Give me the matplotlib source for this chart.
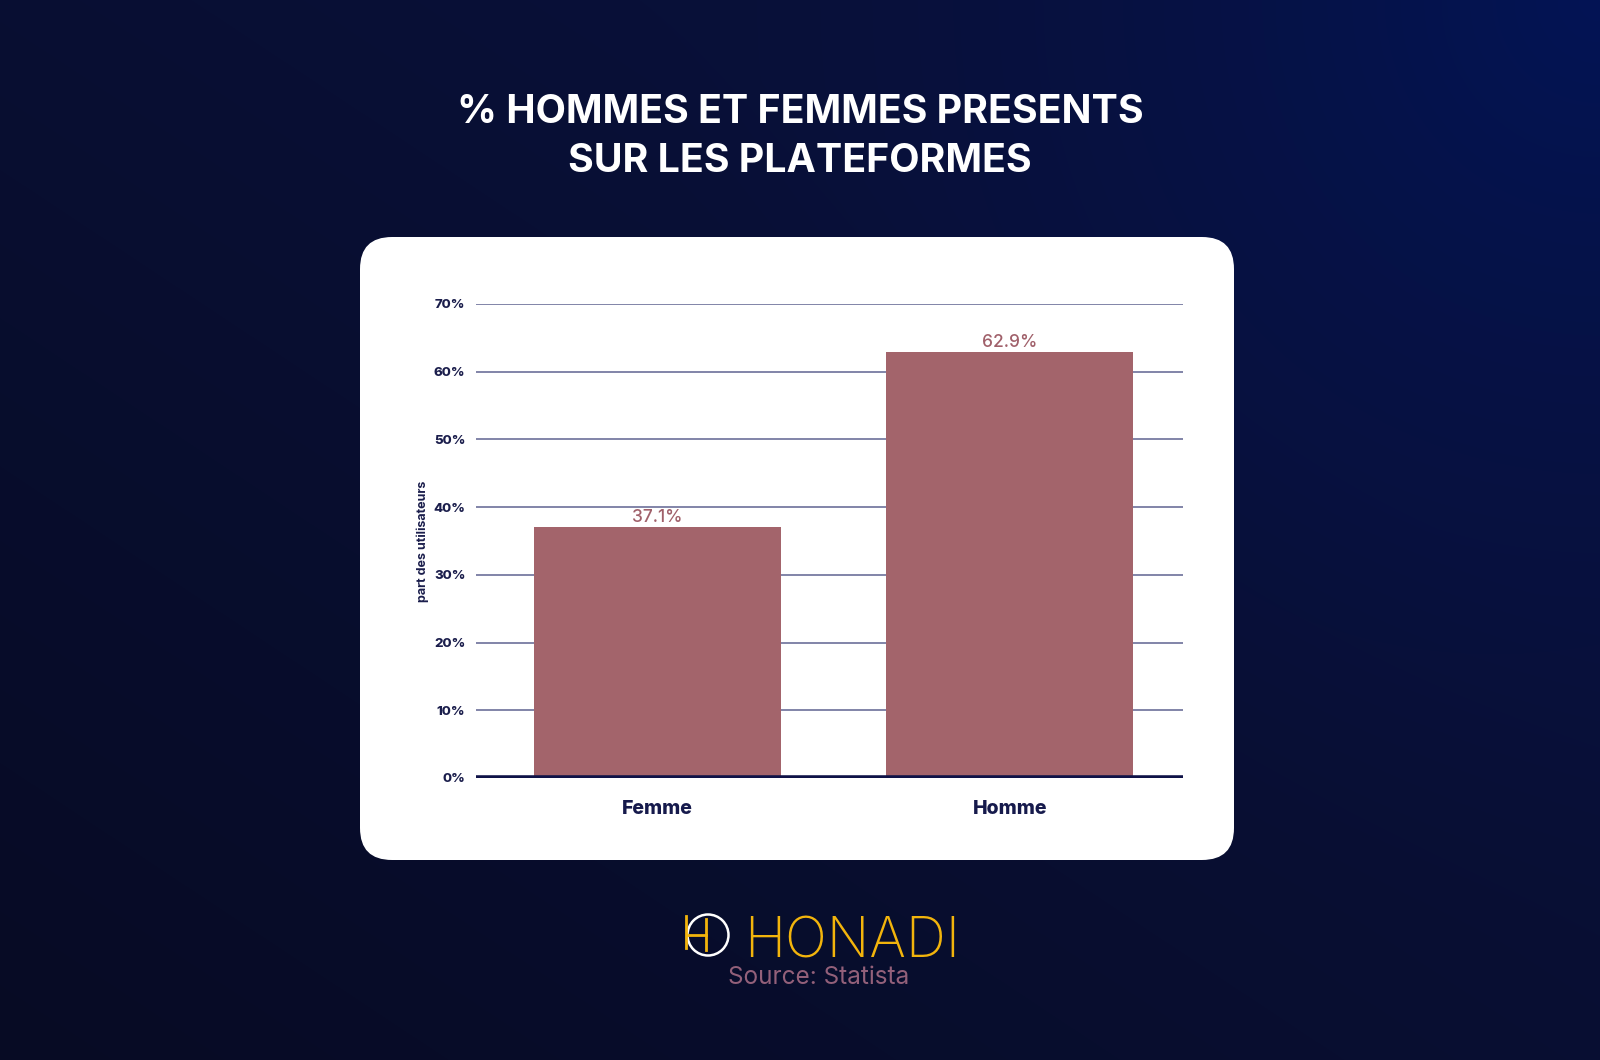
import numpy as np
import matplotlib
matplotlib.use("Agg")
import matplotlib.pyplot as plt
from matplotlib.patches import FancyBboxPatch, Circle
from matplotlib.transforms import IdentityTransform
from matplotlib.lines import Line2D

categories = ["Femme", "Homme"]
values = [37.1, 62.9]
yticks = [0, 10, 20, 30, 40, 50, 60, 70]
ytick_labels = ["0%", "10%", "20%", "30%", "40%", "50%", "60%", "70%"]
title = "% HOMMES ET FEMMES PRESENTS\nSUR LES PLATEFORMES"
ylabel = "part des utilisateurs"
brand = "HONADI"
source = "Source: Statista"

W, H = 1600, 1060
DPI = 100
plt.rcParams['font.family'] = ['Inter', 'DejaVu Sans']

fig = plt.figure(figsize=(W / DPI, H / DPI), dpi=DPI)

# background gradient
bg = fig.add_axes([0, 0, 1, 1], zorder=0)
yy, xx = np.mgrid[0:1:H * 1j, 0:1:W * 1j]  # yy=0 at top
c_dark = np.array([0x07, 0x0b, 0x24]) / 255
c_mid = np.array([0x09, 0x10, 0x38]) / 255
c_light = np.array([0x03, 0x14, 0x55]) / 255
t = np.clip(0.5 * xx + 0.5 * (1 - yy), 0, 1)
tm = np.clip(t / 0.7, 0, 1)[..., None]
base = c_dark * (1 - tm) + c_mid * tm
d = np.sqrt(((1 - xx) * 1.5) ** 2 + (yy * 1.0) ** 2)
g = np.clip(1 - d / 0.9, 0, 1) ** 1.6
img = base * (1 - g[..., None]) + c_light * g[..., None]
bg.imshow(img, extent=[0, 1, 0, 1], aspect='auto', origin='upper')
bg.set_axis_off()

# card
card = FancyBboxPatch((360, H - 860), 874, 623,
                      boxstyle="round,pad=0,rounding_size=32",
                      transform=IdentityTransform(), facecolor="white",
                      edgecolor="none", zorder=1)
fig.patches.append(card)

# chart axes
left, right = 476.5, 1182.6
top, bottom = 304, 778
ax = fig.add_axes([left / W, 1 - bottom / H, (right - left) / W, (bottom - top) / H], zorder=2)
ax.set_facecolor("none")
x = np.arange(len(categories))
bars = ax.bar(x, values, width=0.7, color="#a3646b", zorder=3)
ax.set_xlim(-0.514, 1.491)
ax.set_ylim(0, 70)
for v in yticks[1:]:
    ax.axhline(v, color="#5f6391", lw=1.1, zorder=1)
ax.axhline(0, color="#0f1247", lw=4, zorder=4)
for s in ax.spines.values():
    s.set_visible(False)
ax.set_yticks(yticks)
ax.set_yticklabels(ytick_labels, fontsize=9.5, fontweight='heavy', color="#1b1e4c")
ax.tick_params(axis='y', length=0, pad=8)
ax.set_xticks(x)
ax.set_xticklabels(categories, fontsize=14, fontweight='heavy', color="#161a4c")
ax.tick_params(axis='x', length=0, pad=16)
ax.set_ylabel(ylabel, fontsize=9, fontweight='bold', color="#1b1e4c", labelpad=3)
for b, v in zip(bars, values):
    ax.annotate(f"{v}%", (b.get_x() + b.get_width() / 2, v), xytext=(0, 0.5),
                textcoords="offset points", ha='center', va='bottom',
                fontsize=12.5, fontweight='medium', color="#a0606a")

# title
fig.text(0.5, 1 - 137 / H, title, ha='center', va='center', color='white',
         fontsize=28.3, fontweight='bold', linespacing=1.38)

# logo
yel = "#f2b40c"
fig.text(744 / W, 1 - 942 / H, brand, ha='left', va='center', color=yel,
         fontsize=40, fontweight='light')
def line(xs, ys, color=yel, lw=2):
    fig.lines.append(Line2D([v / W for v in xs], [1 - v / H for v in ys],
                            transform=fig.transFigure, color=color, lw=lw))
line([685.5, 685.5], [916, 948])
line([687, 706], [935, 935])
line([706, 706], [919, 950])
circ = Circle((708, H - 935), 20.5, transform=IdentityTransform(),
              facecolor='none', edgecolor='white', lw=1.8)
fig.patches.append(circ)

fig.text(819 / W, 1 - 978 / H, source, ha='center', va='center', color="#93607a", fontsize=17.5)

fig.savefig("out.png", dpi=DPI)
